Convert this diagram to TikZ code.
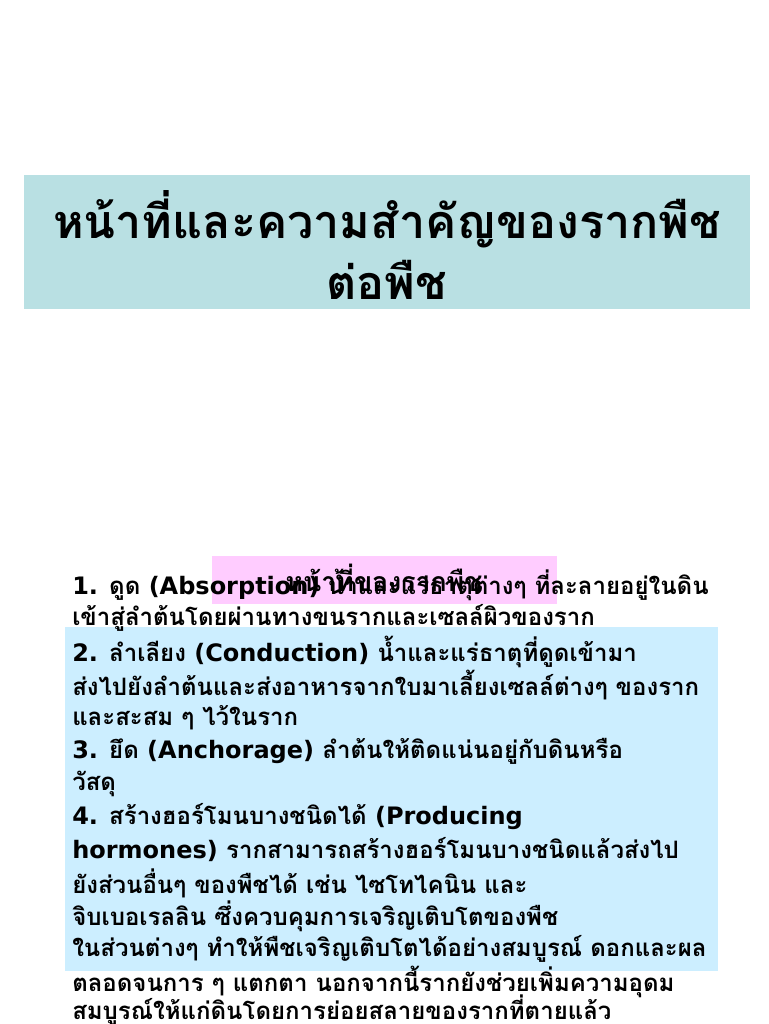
\documentclass[tikz,border=0pt]{standalone}
\usepackage{fontspec}
\setmainfont{DejaVu Sans}
\newfontfamily\thaifont[Script=Thai]{Loma}
\newcommand{\thx}[1]{{\thaifont #1}}
\definecolor{titleband}{HTML}{B9E0E3}
\definecolor{headpink}{HTML}{FFCCFF}
\definecolor{bodyblue}{HTML}{CCEEFF}
\begin{document}
\begin{tikzpicture}[x=0.75pt,y=-0.75pt,
    titletext/.style={font=\thaifont\bfseries\fontsize{35}{46}\selectfont, align=center},
    bodyline/.style={anchor=west, inner sep=0pt, font=\bfseries\fontsize{18}{22}\selectfont}
]
    \useasboundingbox[fill=white] (0,0) rectangle (768,1024);
    % coloured panels
    \fill[titleband] (24,175) rectangle (750,309);
    \fill[headpink] (212,556) rectangle (557,604);
    \fill[bodyblue] (65,627) rectangle (718,971);

    \node[titletext] (title) at (387,245) {หน้าที่และความสำคัญของรากพืช\\ต่อพืช};
    \node[font=\thaifont\bfseries\fontsize{20}{24}\selectfont] (head) at (384,578) {หน้าที่ของรากพืช};

    % body lines
    \node[bodyline] (l1) at (72,585) {1. \thx{ดูด} (Absorption) \thx{น้ำและแร่ธาตุต่างๆ ที่ละลายอยู่ในดิน}};
    \node[bodyline] (l2) at (72,618) {\thx{เข้าสู่ลำต้นโดยผ่านทางขนรากและเซลล์ผิวของราก}};
    \node[bodyline] (l3) at (72,652) {2. \thx{ลำเลียง} (Conduction) \thx{น้ำและแร่ธาตุที่ดูดเข้ามา}};
    \node[bodyline] (l4) at (72,685) {\thx{ส่งไปยังลำต้นและส่งอาหารจากใบมาเลี้ยงเซลล์ต่างๆ ของราก}};
    \node[bodyline] (l5) at (72,718) {\thx{และสะสม ๆ ไว้ในราก}};
    \node[bodyline] (l6) at (72,751) {3. \thx{ยึด} (Anchorage) \thx{ลำต้นให้ติดแน่นอยู่กับดินหรือ}};
    \node[bodyline] (l7) at (72,784) {\thx{วัสดุ}};
    \node[bodyline] (l8) at (72,817) {4. \thx{สร้างฮอร์โมนบางชนิดได้} (Producing};
    \node[bodyline] (l9) at (72,850) {hormones) \thx{รากสามารถสร้างฮอร์โมนบางชนิดแล้วส่งไป}};
    \node[bodyline] (l10) at (72,883) {\thx{ยังส่วนอื่นๆ ของพืชได้ เช่น ไซโทไคนิน และ}};
    \node[bodyline] (l11) at (72,916) {\thx{จิบเบอเรลลิน ซึ่งควบคุมการเจริญเติบโตของพืช}};
    \node[bodyline] (l12) at (72,949) {\thx{ในส่วนต่างๆ ทำให้พืชเจริญเติบโตได้อย่างสมบูรณ์ ดอกและผล}};
    \node[bodyline] (l13) at (72,982) {\thx{ตลอดจนการ ๆ แตกตา นอกจากนี้รากยังช่วยเพิ่มความอุดม}};
    \node[bodyline] (l14) at (72,1010) {\thx{สมบูรณ์ให้แก่ดินโดยการย่อยสลายของรากที่ตายแล้ว}};
\end{tikzpicture}
\end{document}
